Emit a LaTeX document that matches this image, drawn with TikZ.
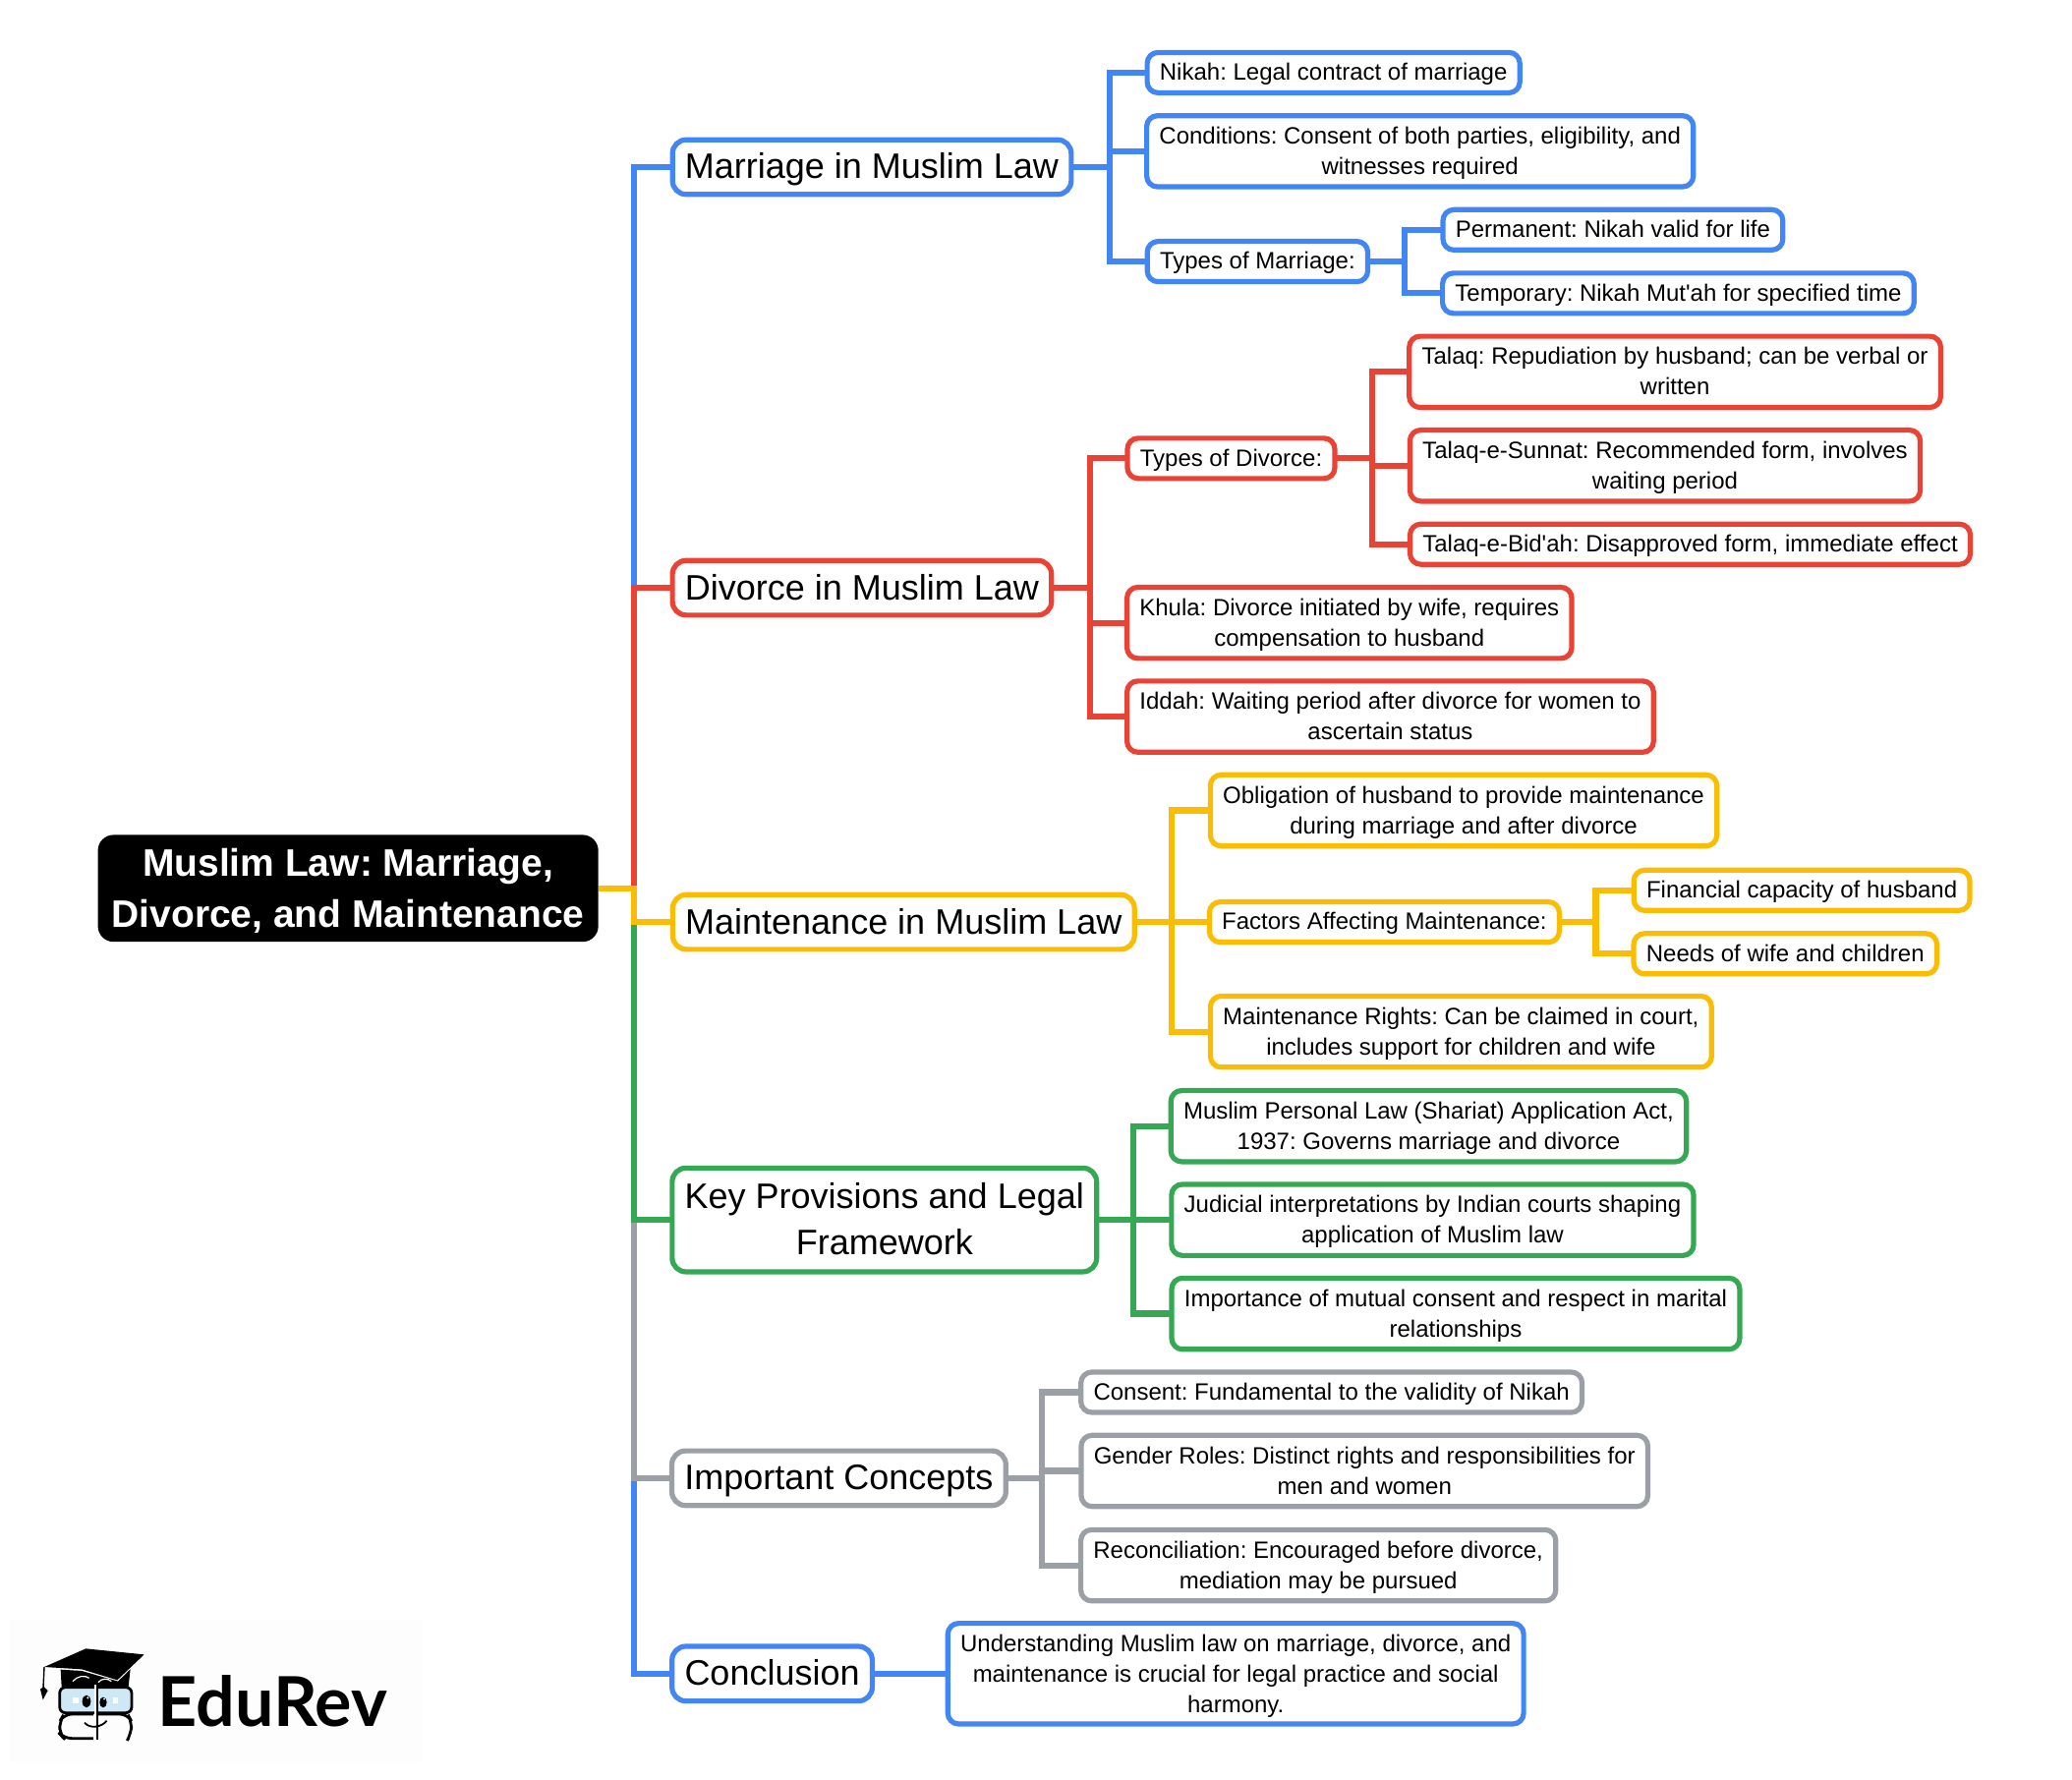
\documentclass[tikz,border=0pt]{standalone}
\usepackage{fontspec}
\setmainfont{Liberation Sans}
\newfontfamily\logofont{Lato}
\frenchspacing
\definecolor{mapblue}{HTML}{4285F4}
\definecolor{mapred}{HTML}{EA4335}
\definecolor{mapyellow}{HTML}{FBBC04}
\definecolor{mapgreen}{HTML}{34A853}
\definecolor{mapgrey}{HTML}{9AA0A6}
\definecolor{lens}{HTML}{CFE8F6}
\tikzset{
  rootbox/.style={fill=black,text=white,rounded corners=8pt,align=center,inner xsep=7pt,inner ysep=1pt,minimum height=54.4pt,
    execute at begin node=\rule{0pt}{42.4pt},
    font=\fontsize{19.5}{25.6}\selectfont\bfseries},
  topicbox/.style={draw=#1,line width=2.6pt,fill=white,rounded corners=7pt,align=center,inner xsep=6.4pt,inner ysep=0pt,
    outer sep=0pt,minimum height=27.8pt,font=\fontsize{18}{23.5}\selectfont},
  topic/.style={topicbox=#1,execute at begin node=\rule{0pt}{19pt},execute at end node=\strut},
  tallertopic/.style={topicbox=#1,minimum height=52.8pt,execute at end node=\rule[-1.3pt]{0pt}{0pt}},
  leaf/.style={draw=#1,line width=2.6pt,fill=white,rounded corners=5.5pt,align=center,inner xsep=6.4pt,inner ysep=0pt,
    outer sep=0pt,xshift=0.3pt,minimum height=20.5pt,execute at begin node=\rule{0pt}{12.3pt},execute at end node=\strut,
    font=\fontsize{12}{15.45}\selectfont},
  twolines/.style={minimum height=36.2pt,execute at begin node=\rule{0pt}{28.2pt}},
  threelines/.style={minimum height=51.2pt,execute at begin node=\rule{0pt}{44.2pt}},
  branch/.style={draw=#1,line width=3.1pt},
}
\begin{document}
\begin{tikzpicture}[x=0.672pt,y=-0.672pt]
  \useasboundingbox (0,0) rectangle (1568.5,1346.8);
  % logo backing
  \fill[black!.8] (7.5,1226) rectangle (319,1334);
  % spine points
  \coordinate (sRoot) at (480,672.5);
  \coordinate (sMarriage) at (840,126.5);
  \coordinate (sTypesM) at (1063,198);
  \coordinate (sDivorce) at (825,445);
  \coordinate (sTypesD) at (1039,347);
  \coordinate (sMaint) at (887,698);
  \coordinate (sFactors) at (1208,698);
  \coordinate (sKey) at (858,923.5);
  \coordinate (sConcepts) at (789,1119);
  % root and topics
  \node[rootbox] (Root) at (263.5,672.5) {Muslim Law: Marriage,\\Divorce, and Maintenance};
  \node[topic=mapblue] (Marriage) at (660,126.5) {Marriage in Muslim Law};
  \node[topic=mapred] (Divorce) at (652.5,445) {Divorce in Muslim Law};
  \node[topic=mapyellow] (Maint) at (684,698) {Maintenance in Muslim Law};
  \node[tallertopic=mapgreen] (Key) at (669.5,923.5) {Key Provisions and Legal\\Framework};
  \node[topic=mapgrey] (Concepts) at (635,1119) {Important Concepts};
  \node[topic=mapblue] (Concl) at (584.5,1267) {Conclusion};
  % marriage
  \node[leaf=mapblue] (Nikah) at (1009,55) {Nikah: Legal contract of marriage};
  \node[leaf=mapblue,twolines] (Cond) at (1074.5,114.5) {Conditions: Consent of both parties, eligibility, and\\witnesses required};
  \node[leaf=mapblue] (TypesM) at (951.5,198) {Types of Marriage:};
  \node[leaf=mapblue] (Perm) at (1220.5,174) {Permanent: Nikah valid for life};
  \node[leaf=mapblue] (Temp) at (1270,222) {Temporary: Nikah Mut\textquotesingle ah for specified time};
  % divorce
  \node[leaf=mapred] (TypesD) at (931.5,347) {Types of Divorce:};
  \node[leaf=mapred,twolines] (Talaq) at (1267.5,281.5) {Talaq: Repudiation by husband; can be verbal or\\written};
  \node[leaf=mapred,twolines] (Sunnat) at (1260,352.5) {Talaq-e-Sunnat: Recommended form, involves\\waiting period};
  \node[leaf=mapred] (Bidah) at (1279,412) {Talaq-e-Bid\textquotesingle ah: Disapproved form, immediate effect};
  \node[leaf=mapred,twolines] (Khula) at (1021,471.5) {Khula: Divorce initiated by wife, requires\\compensation to husband};
  \node[leaf=mapred,twolines] (Iddah) at (1052,542.5) {Iddah: Waiting period after divorce for women to\\ascertain status};
  % maintenance
  \node[leaf=mapyellow,twolines] (Oblig) at (1107.5,613.5) {Obligation of husband to provide maintenance\\during marriage and after divorce};
  \node[leaf=mapyellow] (Factors) at (1047.5,698) {Factors Affecting Maintenance:};
  \node[leaf=mapyellow] (Financial) at (1363.5,674) {Financial capacity of husband};
  \node[leaf=mapyellow] (Needs) at (1351,722) {Needs of wife and children};
  \node[leaf=mapyellow,twolines] (Rights) at (1105.5,781) {Maintenance Rights: Can be claimed in court,\\includes support for children and wife};
  % provisions
  \node[leaf=mapgreen,twolines] (Act) at (1081,852.5) {Muslim Personal Law (Shariat) Application Act,\\1937: Governs marriage and divorce};
  \node[leaf=mapgreen,twolines] (Courts) at (1084,923.5) {Judicial interpretations by Indian courts shaping\\application of Muslim law};
  \node[leaf=mapgreen,twolines] (Mutual) at (1101.5,994.5) {Importance of mutual consent and respect in marital\\relationships};
  % concepts
  \node[leaf=mapgrey] (Consent) at (1007.5,1054) {Consent: Fundamental to the validity of Nikah};
  \node[leaf=mapgrey,twolines] (Gender) at (1032.5,1113.5) {Gender Roles: Distinct rights and responsibilities for\\men and women};
  \node[leaf=mapgrey,twolines] (Recon) at (997.5,1185) {Reconciliation: Encouraged before divorce,\\mediation may be pursued};
  % conclusion
  \node[leaf=mapblue,threelines] (Under) at (935,1267) {Understanding Muslim law on marriage, divorce, and\\maintenance is crucial for legal practice and social\\harmony.};
  % connectors
  \draw[branch=mapblue] (Root.east) -- (sRoot) |- (Marriage.west);
  \draw[branch=mapred] (Root.east) -- (sRoot) |- (Divorce.west);
  \draw[branch=mapblue] (Root.east) -- (sRoot) |- (Concl.west);
  \draw[branch=mapgrey] (Root.east) -- (sRoot) |- (Concepts.west);
  \draw[branch=mapgreen] (Root.east) -- (sRoot) |- (Key.west);
  \draw[branch=mapyellow] (Root.east) -- (sRoot) |- (Maint.west);
  \draw[branch=mapblue] (Marriage.east) -- (sMarriage) |- (Nikah.west);
  \draw[branch=mapblue] (Marriage.east) -- (sMarriage) |- (Cond.west);
  \draw[branch=mapblue] (Marriage.east) -- (sMarriage) |- (TypesM.west);
  \draw[branch=mapblue] (TypesM.east) -- (sTypesM) |- (Perm.west);
  \draw[branch=mapblue] (TypesM.east) -- (sTypesM) |- (Temp.west);
  \draw[branch=mapred] (Divorce.east) -- (sDivorce) |- (TypesD.west);
  \draw[branch=mapred] (Divorce.east) -- (sDivorce) |- (Khula.west);
  \draw[branch=mapred] (Divorce.east) -- (sDivorce) |- (Iddah.west);
  \draw[branch=mapred] (TypesD.east) -- (sTypesD) |- (Talaq.west);
  \draw[branch=mapred] (TypesD.east) -- (sTypesD) |- (Sunnat.west);
  \draw[branch=mapred] (TypesD.east) -- (sTypesD) |- (Bidah.west);
  \draw[branch=mapyellow] (Maint.east) -- (sMaint) |- (Oblig.west);
  \draw[branch=mapyellow] (Maint.east) -- (sMaint) |- (Factors.west);
  \draw[branch=mapyellow] (Maint.east) -- (sMaint) |- (Rights.west);
  \draw[branch=mapyellow] (Factors.east) -- (sFactors) |- (Financial.west);
  \draw[branch=mapyellow] (Factors.east) -- (sFactors) |- (Needs.west);
  \draw[branch=mapgreen] (Key.east) -- (sKey) |- (Act.west);
  \draw[branch=mapgreen] (Key.east) -- (sKey) |- (Courts.west);
  \draw[branch=mapgreen] (Key.east) -- (sKey) |- (Mutual.west);
  \draw[branch=mapgrey] (Concepts.east) -- (sConcepts) |- (Consent.west);
  \draw[branch=mapgrey] (Concepts.east) -- (sConcepts) |- (Gender.west);
  \draw[branch=mapgrey] (Concepts.east) -- (sConcepts) |- (Recon.west);
  \draw[branch=mapblue] (Concl.east) -- (Under.west);
  % logo
  \node[font=\logofont\fontsize{35}{35}\selectfont\bfseries,text=black,inner sep=0pt,anchor=base west] (Brand) at (119,1306.6) {EduRev};
  \begin{scope}[shift={(0,1205.4)},scale=0.248]
    \fill (135,228) -- (262,172) -- (440,190) -- (358,268) -- (250,235) -- cycle;
    \fill (185,236) -- (188,288) -- (392,288) -- (398,235) -- (360,272) -- (250,240) -- cycle;
    \draw[white,line width=.6pt] (222,272) .. controls (235,255) and (260,252) .. (272,262);
    \draw[white,line width=.6pt] (300,275) .. controls (310,262) and (330,262) .. (340,272);
    \draw[line width=.7pt] (135,228) -- (132,292);
    \fill (123,296) -- (134,288) -- (146,300) -- (131,328) -- cycle;
    \draw[fill=lens,line width=1.4pt,rounded corners=3pt] (182,290) rectangle (402,368);
    \draw[line width=1.4pt,rounded corners=4pt] (285,372) -- (195,372) -- (182,395) -- (182,432) -- (195,446) -- (285,446);
    \draw[line width=1.4pt,rounded corners=4pt] (300,372) -- (390,372) -- (402,395) -- (400,432) -- (392,446);
    \draw[white,line width=1pt] (290,282) -- (290,450);
    \draw[line width=1pt] (296,285) -- (296,450);
    \fill (264,333) ellipse (13 and 19);
    \fill (315,336) ellipse (11 and 16);
    \fill[white] (268,322) circle (3.5);
    \fill[white] (318,326) circle (3);
    \fill[white] (222,322) rectangle (240,338);
    \fill[white] (344,322) rectangle (360,338);
    \draw[line width=.9pt] (258,398) .. controls (275,418) and (310,412) .. (326,392);
  \end{scope}
\end{tikzpicture}
\end{document}
